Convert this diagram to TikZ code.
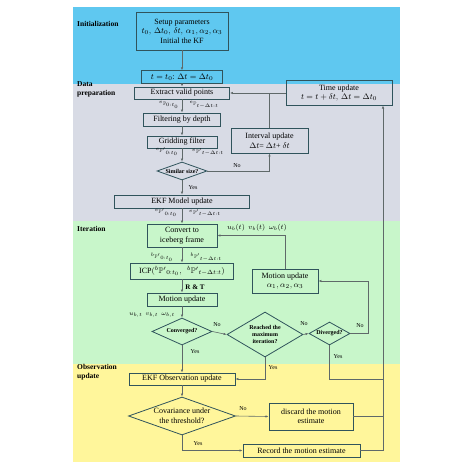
\documentclass[tikz,border=0pt]{standalone}
\usepackage{fontspec}
\setmainfont{Liberation Serif}
\usepackage{amsmath,amssymb}
\usetikzlibrary{shapes.geometric,arrows.meta}

\definecolor{initblue}{RGB}{95,200,240}
\definecolor{prepgray}{RGB}{216,219,229}
\definecolor{itergreen}{RGB}{200,246,202}
\definecolor{obsyellow}{RGB}{255,246,155}
\definecolor{boxline}{RGB}{48,84,92}
\definecolor{linegray}{RGB}{95,105,105}

\begin{document}
\begin{tikzpicture}[x=1pt,y=-1pt,
    procbox/.style={draw=boxline, line width=0.8pt, inner sep=1pt, align=center, font=\fontsize{8}{9.5}\selectfont},
    testbox/.style={draw=boxline, line width=0.8pt, shape=diamond, inner sep=0pt, align=center, font=\fontsize{6}{6.8}\selectfont\bfseries},
    flowarrow/.style={draw=linegray, line width=0.6pt, -{Latex[length=3pt,width=2.4pt]}},
    flowline/.style={draw=linegray, line width=0.6pt},
    answer/.style={font=\fontsize{6}{7}\selectfont, inner sep=0pt},
    cloud/.style={font=\fontsize{5}{6}\selectfont, inner sep=0pt},
    stage/.style={font=\fontsize{7.5}{9}\selectfont\bfseries, anchor=west, align=left, inner sep=0pt}]
        \useasboundingbox (0,0) rectangle (474,474);

        % Coloured bands for the four stages
        \fill[initblue] (73,7) rectangle (400,84);
        \fill[prepgray] (73,84) rectangle (400,221);
        \fill[itergreen] (73,221) rectangle (400,364);
        \fill[obsyellow] (73,364) rectangle (400,462);

        % Stage names
        \node[stage] (lblInit) at (77,24) {Initialization};
        \node[stage] (lblPrep) at (77,89.5) {Data\\preparation};
        \node[stage] (lblIter) at (77,229) {Iteration};
        \node[stage] (lblObs) at (77,372.5) {Observation\\update};

        % Initialization
        \node[procbox, minimum width=92, minimum height=38] (setup) at (182,31) {Setup parameters\\$t_0,\,\Delta t_0,\,\delta t,\,\alpha_1,\alpha_2,\alpha_3$\\Initial the KF};
        \node[procbox, minimum width=81, minimum height=12.5] (tinit) at (182,77) {$t=t_0$: $\Delta t=\Delta t_0$};

        % Data preparation
        \node[procbox, minimum width=95, minimum height=12] (extract) at (182,93) {Extract valid points};
        \node[procbox, minimum width=77, minimum height=13] (filter) at (182,119.5) {Filtering by depth};
        \node[procbox, minimum width=70, minimum height=12] (grid) at (182,142) {Gridding filter};
        \node[testbox, minimum width=50, minimum height=18, aspect=2.8] (similar) at (182,171) {Similar size?};
        \node[procbox, minimum width=106, minimum height=25] (timeup) at (339,93) {Time update\\$t=t+\delta t,\,\Delta t=\Delta t_0$};
        \node[procbox, minimum width=77, minimum height=25] (interval) at (269.5,140.5) {Interval update\\$\Delta t$= $\Delta t$+ $\delta t$};
        \node[procbox, minimum width=135, minimum height=13] (ekfmodel) at (182,201.5) {EKF Model update};

        % Iteration
        \node[procbox, minimum width=70, minimum height=23] (convert) at (182,235.5) {Convert to\\iceberg frame};
        \node[procbox, minimum width=103, minimum height=16] (icp) at (182,271) {ICP$({}^{b}\mathbb{P}'{}_{0:t_0},\ \ {}^{b}\mathbb{P}'{}_{t-\Delta t:t})$};
        \node[procbox, minimum width=70, minimum height=13] (motion) at (182,299.5) {Motion update};
        \node[procbox, minimum width=66, minimum height=24] (motionA) at (285,281) {Motion update\\$\alpha_1,\alpha_2,\alpha_3$};
        \node[testbox, minimum width=60, minimum height=27, aspect=2.2] (converged) at (182,331.5) {Converged?};
        \node[testbox, minimum width=76, minimum height=45, aspect=1.7] (reached) at (265,334.5) {Reached the\\maximum\\iteration?};
        \node[testbox, minimum width=41, minimum height=23, aspect=1.8] (diverged) at (329.5,333.5) {Diverged?};

        % Observation update
        \node[procbox, minimum width=106, minimum height=12] (ekfobs) at (182,379) {EKF Observation update};
        \node[testbox, minimum width=107, minimum height=38, aspect=2.8, font=\fontsize{8}{9.5}\selectfont] (cov) at (182,416) {Covariance under\\the threshold?};
        \node[procbox, minimum width=84, minimum height=27] (discard) at (311,416.5) {discard the motion\\estimate};
        \node[procbox, minimum width=117, minimum height=13] (record) at (301.5,450.5) {Record the motion estimate};

        % Turning points of the loops
        \coordinate (divTurn) at (368,333.5);
        \coordinate (retTop) at (383,105.5);

        % Main column
        \draw[flowarrow] (setup) -- (tinit);
        \draw[flowarrow] (tinit) -- (extract);
        \draw[flowarrow] (extract) -- (filter);
        \draw[flowarrow] (filter) -- (grid);
        \draw[flowarrow] (grid) -- (similar);
        \draw[flowarrow] (similar) -- (ekfmodel);
        \draw[flowarrow] (ekfmodel) -- (convert);
        \draw[flowarrow] (convert) -- (icp);
        \draw[flowarrow] (icp) -- (motion);
        \draw[flowarrow] (motion) -- (converged);
        \draw[flowarrow] (converged) -- (ekfobs);
        \draw[flowarrow] (ekfobs) -- (cov);

        % Loops back
        \draw[flowarrow] (timeup.west) -- (extract.east);
        \draw[flowline] (interval.north) -- (interval.north |- extract.east);
        \draw[flowarrow] (similar.east) -| (interval.south);
        \draw[flowarrow] (converged.east) -- (reached.west);
        \draw[flowarrow] (reached.east) -- (diverged.west);
        \draw[flowarrow] (diverged.east) -- (divTurn) |- (motionA.east);
        \draw[flowarrow] (motionA.north) |- (convert.east);
        \draw[flowarrow] (reached.south) |- (ekfobs.east);
        \draw[flowarrow] (cov.east) -- (discard.west);
        \draw[flowarrow] (cov.south) |- (record.west);
        \draw[flowline] (diverged.south) |- (ekfobs.east -| retTop);
        \draw[flowline] (discard.east) -- (discard.east -| retTop);
        \draw[flowarrow] (record.east) -| (retTop);

        % Yes / No
        \node[answer] (simNo) at (237,166) {No};
        \node[answer] (simYes) at (193,188) {Yes};
        \node[answer] (convNo) at (217,325) {No};
        \node[answer] (convYes) at (195,352) {Yes};
        \node[answer] (reachNo) at (304,324) {No};
        \node[answer] (reachYes) at (273,368) {Yes};
        \node[answer] (divNo) at (360,326) {No};
        \node[answer] (divYes) at (338,357) {Yes};
        \node[answer] (covNo) at (243,409) {No};
        \node[answer] (covYes) at (198,444) {Yes};

        % Point clouds and velocities
        \node[cloud] (pcA) at (169,104.5) {${}^{e}\mathbb{P}_{0:t_0}$};
        \node[cloud] (pcB) at (204,104.5) {${}^{e}\mathbb{P}_{t-\Delta t:t}$};
        \node[cloud] (pcC) at (167,152) {${}^{e}\mathbb{P}'{}_{0:t_0}$};
        \node[cloud] (pcD) at (208,152) {${}^{e}\mathbb{P}'{}_{t-\Delta t:t}$};
        \node[cloud] (pcE) at (166,213) {${}^{e}\mathbb{P}'{}_{0:t_0}$};
        \node[cloud] (pcF) at (205,213) {${}^{e}\mathbb{P}'{}_{t-\Delta t:t}$};
        \node[cloud] (pcG) at (162,257) {${}^{b}\mathbb{P}'{}_{0:t_0}$};
        \node[cloud] (pcH) at (206,257) {${}^{b}\mathbb{P}'{}_{t-\Delta t:t}$};
        \node[font=\fontsize{7}{8}\selectfont\bfseries, inner sep=0pt] (rt) at (195,287) {R \& T};
        \node[font=\fontsize{7}{8}\selectfont, inner sep=0pt] (velA) at (257,228) {$u_b(t)\ \ v_b(t)\ \ \omega_b(t)$};
        \node[font=\fontsize{6.5}{8}\selectfont, inner sep=0pt] (velB) at (152,315) {$u_{b,t}\ \ v_{b,t}\ \ \omega_{b,t}$};
\end{tikzpicture}
\end{document}
